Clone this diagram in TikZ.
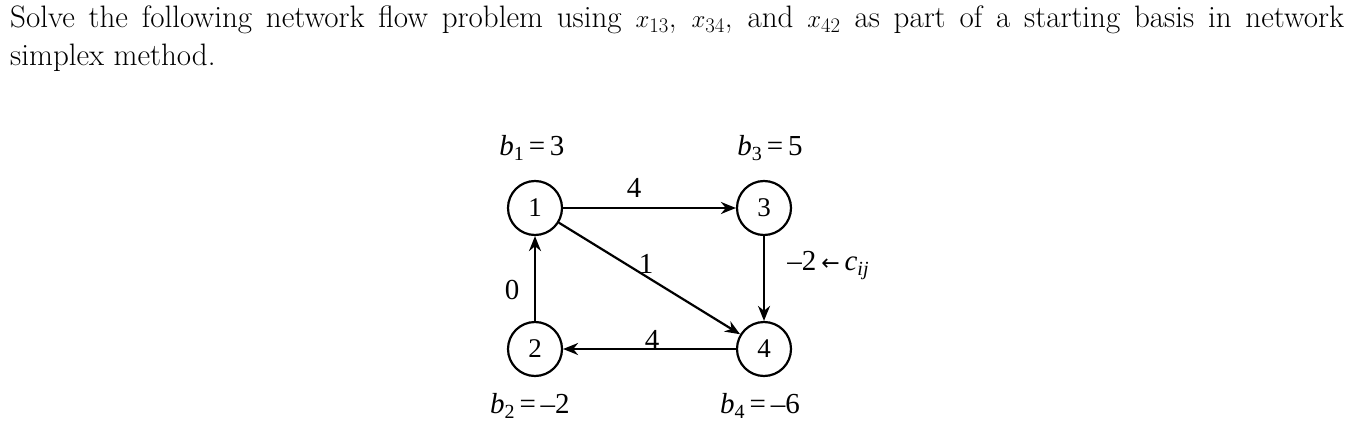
\documentclass[tikz,border=0pt]{standalone}
\usepackage{fontspec}
\newfontfamily\tms{Liberation Serif}
\usetikzlibrary{arrows.meta}
\begin{document}
\begin{tikzpicture}[x=1pt,y=-1pt,
 nd/.style={circle,draw,line width=2.2pt,minimum size=54pt,inner sep=0pt,font=\tms\fontsize{27}{27}\selectfont},
 ar/.style={line width=2.2pt,-{Stealth[length=15pt,width=12pt]}},
 lb/.style={font=\tms\fontsize{29}{29}\selectfont}]
\useasboundingbox (0,0) rectangle (1354,441);
\node[anchor=north west,text width=1334pt,align=justify,inner sep=0pt,font=\fontsize{31}{38}\selectfont] (t) at (10,6)
 {Solve the following network flow problem using $x_{13}$, $x_{34}$, and $x_{42}$ as part of a starting basis in network\linebreak simplex method.};
\node[nd] (n1) at (535,208) {1};
\node[nd] (n3) at (764,208) {3};
\node[nd] (n2) at (535,349) {2};
\node[nd] (n4) at (764,349) {4};
\draw[ar] (n1) -- (n3);
\draw[ar] (n1) -- (n4);
\draw[ar] (n3) -- (n4);
\draw[ar] (n4) -- (n2);
\draw[ar] (n2) -- (n1);
\node[lb] (l13) at (634,188) {4};
\node[lb] (l14) at (646,264) {1};
\node[lb] (l21) at (512,290) {0};
\node[lb] (l42) at (652,340) {4};
\node[lb] (l34) at (828,266) {\tms –2\,{\fontspec{DejaVu Sans}\fontsize{22}{22}\selectfont ←}\,\textit{c}\raisebox{-5pt}{\fontsize{20}{20}\selectfont\textit{ij}}};
\node[lb] (b1) at (532,148) {\textit{b}\raisebox{-5pt}{\fontsize{20}{20}\selectfont 1}\,=\,3};
\node[lb] (b3) at (770,148) {\textit{b}\raisebox{-5pt}{\fontsize{20}{20}\selectfont 3}\,=\,5};
\node[lb] (b2) at (530,406) {\textit{b}\raisebox{-5pt}{\fontsize{20}{20}\selectfont 2}\,=\,–2};
\node[lb] (b4) at (760,406) {\textit{b}\raisebox{-5pt}{\fontsize{20}{20}\selectfont 4}\,=\,–6};
\end{tikzpicture}
\end{document}
